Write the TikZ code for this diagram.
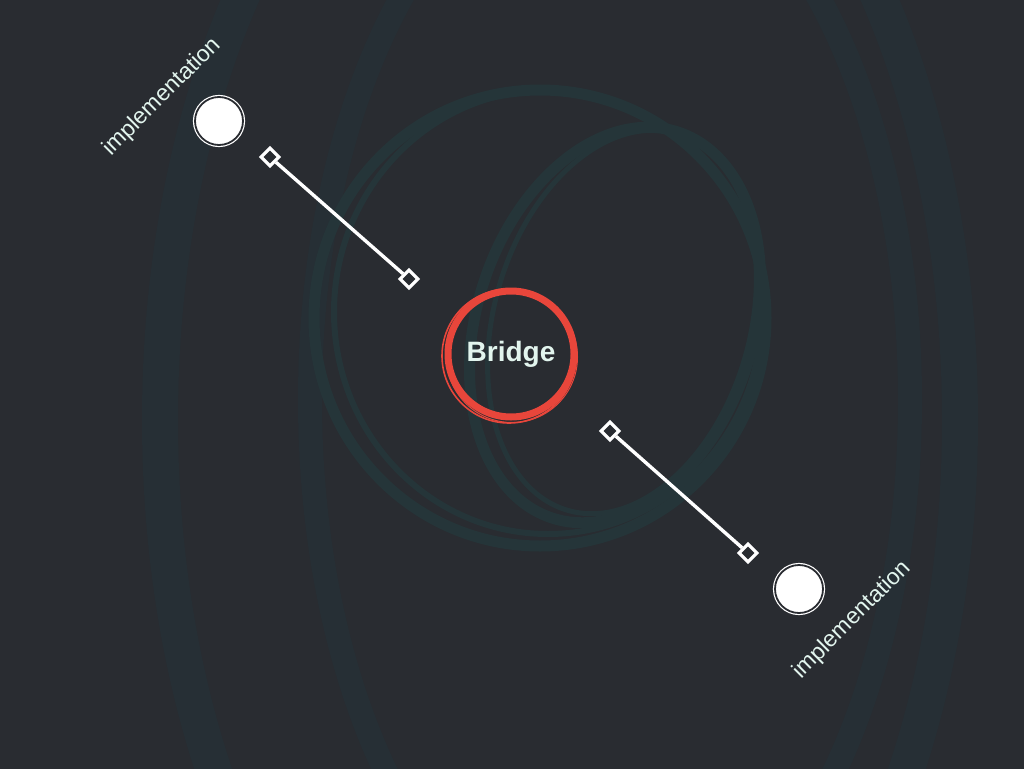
\documentclass[tikz,border=0pt]{standalone}
\usepackage{fontspec}
\setmainfont{Liberation Sans}
\usepackage{xcolor}
\usepackage{tikz}
\usetikzlibrary{calc,shapes.geometric}
\definecolor{bg}{HTML}{292C31}
\definecolor{swirl}{HTML}{253539}
\definecolor{swirlfar}{HTML}{262F35}
\definecolor{text}{HTML}{FFFFFF}
\definecolor{mint}{HTML}{E2F5EE}
\definecolor{brush}{HTML}{E8463B}
\tikzset{
  back/.style={draw=swirl, line width=11pt},
  backfar/.style={draw=swirlfar, line width=36pt},
  ring/.style={draw=brush, line width=7pt},
  ringthin/.style={draw=brush, line width=1.6pt},
  dot/.style={circle, fill=text, draw=text, double=bg, double distance=1.8pt,
    line width=1.2pt, minimum size=48pt, inner sep=0pt},
  knob/.style={diamond, draw=text, fill=bg, line width=3.2pt,
    minimum size=19pt, inner sep=0pt},
  link/.style={draw=text, line width=3.4pt},
  lab/.style={text=mint, font=\fontsize{23}{25}\selectfont, rotate=45},
  title/.style={text=mint, font=\bfseries\fontsize{28}{30}\selectfont},
}
\begin{document}
\begin{tikzpicture}[x=1pt,y=-1pt]
  \useasboundingbox (0,0) rectangle (1024,768);
  \fill[bg] (-20,-20) rectangle (1044,788);

  % faint swirls in the back
  \begin{scope}
    \clip (-10,-10) rectangle (1034,778);
    \draw[backfar] (560,420) ellipse (400 and 700);
    \draw[backfar, line width=24pt] (610,400) ellipse (300 and 560);
    \draw[back] (540,318) ellipse (226 and 228);
    \draw[back, line width=6pt] (548,312) ellipse (214 and 222);
    \draw[back, rotate around={-18:(615,325)}] (615,325) ellipse (138 and 203);
    \draw[back, line width=5pt, rotate around={-16:(622,322)}] (622,322) ellipse (128 and 196);
  \end{scope}

  \coordinate (C) at (511,354);
  \node[dot] (implA) at (219,121) {};
  \node[dot] (implB) at (799,589) {};
  \node[lab] (labA) at (162,97) {implementation};
  \node[lab] (labB) at (852,620) {implementation};

  % brush ring round the centre
  \draw[ring] (C) circle (63);
  \draw[ringthin] ($(C)+(-2,2)$) circle (67);
  \draw[ringthin, line width=1pt] ($(C)+(1,3)$) circle (65.5);
  \node[title] (bridge) at (C) {Bridge};

  \node[knob] (a1) at (270,157) {};
  \node[knob] (a2) at (409,279) {};
  \node[knob] (b1) at (610,431) {};
  \node[knob] (b2) at (748,553) {};
  \draw[link] (a1) -- (a2);
  \draw[link] (b1) -- (b2);
\end{tikzpicture}
\end{document}
